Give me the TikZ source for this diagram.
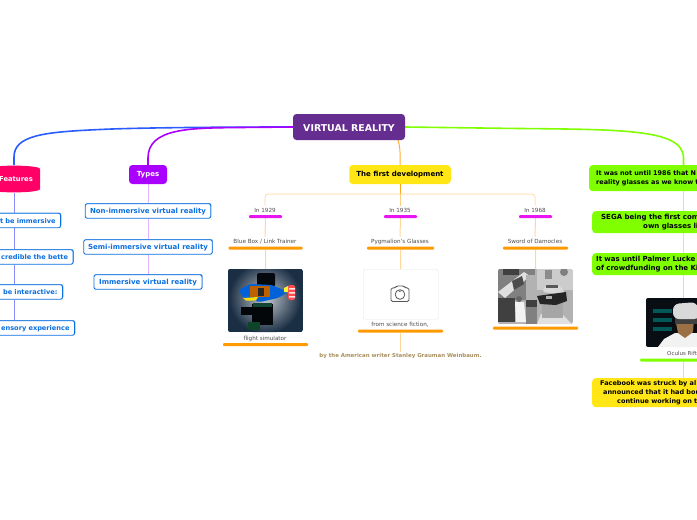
\documentclass[tikz,border=0pt]{standalone}
\usepackage{fontspec}
\setmainfont{DejaVu Sans}
\usetikzlibrary{backgrounds,shadows}
\definecolor{vrpurple}{HTML}{662D91}
\definecolor{vrblue}{HTML}{0A6FE0}
\definecolor{vrline}{HTML}{2B5CFF}
\definecolor{vrviolet}{HTML}{AA00FF}
\definecolor{vrpink}{HTML}{FF0066}
\definecolor{vryellow}{HTML}{FFE614}
\definecolor{vrgreen}{HTML}{80FF00}
\definecolor{vrorange}{HTML}{FF9900}
\definecolor{vrmagenta}{HTML}{E815F0}
\definecolor{vrtan}{HTML}{A8905F}
\definecolor{vrnavy}{HTML}{1A2E44}
\tikzset{
    topic/.style={rounded corners=3.5, inner sep=0, font=\fontsize{7}{8.6}\selectfont\bfseries, align=center},
    sidetopic/.style={topic, anchor=north west, text width=200, inner xsep=#1, align=left},
    subtopic/.style={draw=vrblue, line width=0.9, fill=white, rounded corners=2, inner sep=0,
        text=vrblue, minimum height=14.5, text height=6, text depth=1, font=\fontsize{7}{8}\selectfont\bfseries,
        drop shadow={shadow xshift=0.7, shadow yshift=-0.7, fill=vrblue!50, opacity=1}},
    edgetopic/.style={subtopic, anchor=east, align=right, font=\fontsize{6.6}{8}\selectfont\bfseries},
    caption/.style={inner sep=1, text=black!70, text height=5.2, text depth=1, font=\fontsize{5.65}{6.5}\selectfont},
    bar/.style={rounded corners=1, inner sep=0, minimum height=3},
    photo/.style={rounded corners=2, inner sep=0, anchor=north west},
    link/.style={line width=1},
    mainlink/.style={line width=1.6},
}
\begin{document}
\begin{tikzpicture}[x=1pt,y=-1pt]
    \useasboundingbox (0,0) rectangle (697,520);
    \clip (0,0) rectangle (697,520);

    % central topic
    \node[topic, fill=vrpurple, text=white, minimum width=112, minimum height=26, text height=9.3, text depth=0.5, font=\fontsize{9.4}{11}\selectfont\bfseries] (central) at (349,127) {VIRTUAL REALITY};

    % features branch
    \fill[vrpink] (-12,169) .. controls (-12,164.5) and (40,164.5) .. (40,169) -- (40,189)
        .. controls (40,193.5) and (-12,193.5) .. (-12,189) -- cycle;
    \node[inner sep=0, text=white, font=\fontsize{6.8}{8}\selectfont\bfseries] (features) at (16,179.5) {Features};
    \coordinate (featurestop) at (14,165);
    \coordinate (featuresbot) at (14,193);
    \node[edgetopic, minimum width=91, text width=81] (immersive) at (61,220.5) {t be immersive};
    \node[edgetopic, minimum width=102, text width=92] (credible) at (73.5,257) {credible the bette};
    \node[edgetopic, minimum width=91, text width=81] (interactive) at (63,292) {be interactive:};
    \node[edgetopic, minimum width=103, text width=93] (sensory) at (75,328) {ensory experience};

    % types branch
    \node[topic, fill=vrviolet, text=white, minimum width=38, minimum height=19] (types) at (148,174.5) {Types};
    \node[subtopic, minimum width=125.5] (nonimm) at (148,211) {Non-immersive virtual reality};
    \node[subtopic, minimum width=128.5] (semiimm) at (148,247) {Semi-immersive virtual reality};
    \node[subtopic, minimum width=108] (fullimm) at (148,282) {Immersive virtual reality};

    % first development branch
    \node[topic, fill=vryellow, minimum width=101.5, minimum height=19] (firstdev) at (400,174.5) {The first development};
    \coordinate (fork) at (400,194);
    \node[caption] (in1929) at (265,210) {In 1929};
    \node[caption] (in1935) at (400,210) {In 1935};
    \node[caption] (in1968) at (535,210) {In 1968};
    \node[bar, fill=vrmagenta, minimum width=33] (bar1929) at (265.5,216.5) {};
    \node[bar, fill=vrmagenta, minimum width=33] (bar1935) at (400.5,216.5) {};
    \node[bar, fill=vrmagenta, minimum width=33] (bar1968) at (535.5,216.5) {};
    \node[caption] (bluebox) at (265,241) {Blue Box / Link Trainer};
    \node[caption] (pygmalion) at (400,241) {Pygmalion's Glasses};
    \node[caption] (sword) at (535,241) {Sword of Damocles};
    \node[bar, fill=vrorange, minimum width=74] (barbox) at (265.5,248) {};
    \node[bar, fill=vrorange, minimum width=67] (barglass) at (400.5,248) {};
    \node[bar, fill=vrorange, minimum width=65] (barsword) at (535.5,248) {};

    % flight simulator picture
    \node[photo, minimum width=75, minimum height=63] (simulator) at (228,269) {};
    \begin{scope}
        \clip[rounded corners=2] (228,269) rectangle (303,332);
        \fill[vrnavy] (228,269) rectangle (303,332);
        \shade[inner color=white!75!vrnavy, outer color=vrnavy] (265,298) circle (36);
        \fill[black!80!vrnavy, rounded corners=2] (257,273) rectangle (275,287);
        \fill[black!85!vrnavy] (252,304) rectangle (273,325);
        \fill[black!45!green!25!vrnavy] (253,303) rectangle (272,307);
        \fill[black!85!vrnavy] (241,307) rectangle (252,315);
        \fill[black!60!green!40!vrnavy] (248,322) rectangle (260,330);
        \fill[blue!55!cyan!85!black, rounded corners=2] (239,290) -- (250,284) -- (272,285) -- (288,292) -- (278,298) -- (260,302) -- (243,298) -- cycle;
        \fill[orange!75!black] (250,286) rectangle (270,297);
        \fill[black!85] (258,288) rectangle (264,296);
        \fill[yellow!80!orange] (243,298) -- (258,297) -- (256,300.5) -- (246,300.5) -- cycle;
        \fill[red!70!white, rounded corners=2] (288,285) rectangle (295,300);
        \fill[white!90!red] (289,288) rectangle (295,289.5) (289,292) rectangle (295,293.5) (289,296) rectangle (295,297.5);
        \fill[yellow!80!white] (284,288) -- (288,286) -- (288,292) -- (284,292) -- cycle;
    \end{scope}
    \node[caption] (flight) at (265,338) {flight simulator};
    \node[bar, fill=vrorange, minimum width=85] (barflight) at (265.5,344.5) {};

    % missing picture with camera mark
    \node[photo, draw=black!10, fill=white, minimum width=75, minimum height=50] (nophoto) at (363,269) {};
    \begin{scope}[draw=black!65, line width=0.8]
        \draw[rounded corners=1.5] (391,288) -- (395,288) -- (396.5,286) -- (404,286) -- (405.5,288) -- (409,288) -- (409,301.5) -- (391,301.5) -- cycle;
        \draw (400,294.5) circle (4.8);
        \draw (399,291.5) -- (401,291);
    \end{scope}
    \node[caption] (fiction) at (400,324) {from science fiction,};
    \node[bar, fill=vrorange, minimum width=85] (barfiction) at (400.5,331) {};
    \node[inner sep=1, text=vrtan, font=\fontsize{5.45}{6.5}\selectfont\bfseries] (weinbaum) at (400.5,356) {by the American writer Stanley Grauman Weinbaum.};

    % black and white picture of the headset
    \node[photo, minimum width=75, minimum height=55] (damocles) at (498,269) {};
    \begin{scope}
        \clip[rounded corners=2] (498,269) rectangle (573,324);
        \fill[black!30] (498,269) rectangle (573,324);
        \fill[black!50] (498,269) rectangle (535,300);
        \fill[black!12] (498,292) -- (524,272) -- (530,276) -- (505,298) -- cycle;
        \fill[black!75] (503,269) rectangle (519,275);
        \fill[black!70] (512,281) -- (522,276) -- (524,284) -- (514,290) -- cycle;
        \fill[black!30] (526,275) rectangle (537,300);
        \fill[black!75] (498,298) rectangle (515,322);
        \fill[black!5] (515,302) -- (524,302) -- (526,322) -- (516,322) -- cycle;
        \fill[black!60] (519,299) circle (3);
        \fill[black!75] (526,300) rectangle (537,307);
        \fill[black!50] (526,307) rectangle (537,324);
        \fill[black!20] (537,269) rectangle (573,290);
        \fill[black!45] (545,270) rectangle (552,279);
        \fill[black!50] (564,272) circle (4);
        \fill[black!12] (537,324) -- (541,314) -- (562,314) -- (572,324) -- cycle;
        \fill[black!35] (542,303) rectangle (563,318);
        \fill[black!15, rounded corners=3] (542,292) -- (546,285) -- (560,285) -- (566,295) -- cycle;
        \fill[black!65] (546,285) rectangle (558,288);
        \fill[black!85] (537,296) -- (566,292) -- (567,301) -- (556,305) -- (540,304) -- cycle;
        \fill[black!30] (546,296) rectangle (552,299);
    \end{scope}
    \node[bar, fill=vrorange, minimum width=85] (barsky) at (535.5,328) {};

    % last branch, running over the page
    \node[sidetopic=7, fill=vrgreen, minimum height=26, font=\fontsize{6.45}{8.6}\selectfont\bfseries] (nasa) at (589,165) {It was not until 1986 that N\\reality glasses as we know t};
    \node[sidetopic=9, fill=vrgreen, minimum height=22] (sega) at (592,211) {SEGA being the first com\\\hspace*{42pt}own glasses li};
    \node[sidetopic=4, fill=vrgreen, minimum height=22] (palmer) at (592,253) {It was until Palmer Lucke\\of crowdfunding on the Ki};
    \node[photo, minimum width=60, minimum height=49] (oculus) at (646,298) {};
    \begin{scope}
        \clip[rounded corners=2] (646,298) rectangle (710,347);
        \fill[black!70!vrnavy] (646,298) rectangle (710,347);
        \fill[teal!70!black] (653,309) rectangle (672,313);
        \fill[teal!70!black] (653,318) rectangle (672,322);
        \fill[teal!70!black] (653,327) rectangle (672,331);
        \fill[black!5] (658,347) -- (664,339) -- (675,333) -- (697,333) -- (702,347) -- cycle;
        \fill[brown!75!black!90] (675,318) -- (694,318) -- (693,332) -- (685,338) -- (678,333) -- cycle;
        \fill[black!75] (675,316) rectangle (697,324);
        \fill[black!15, rounded corners=6] (673,319) -- (673,304) -- (697,302) -- (700,319) -- cycle;
    \end{scope}
    \node[inner sep=1, anchor=west, text=black!70, font=\fontsize{5.5}{6.5}\selectfont] (rift) at (666,353.5) {Oculus Rift};
    \node[bar, fill=vrgreen, minimum width=70, anchor=west] (barrift) at (640,360) {};
    \node[sidetopic=8, fill=vryellow, minimum height=29, font=\fontsize{6.5}{8.6}\selectfont\bfseries] (facebook) at (592,378) {Facebook was struck by al\\\hspace*{3pt}announced that it had bou\\\hspace*{17pt}continue working on t};

    % connectors, behind the nodes
    \begin{scope}[on background layer]
        \draw[mainlink, vrline] (central.west) .. controls (200,127) and (130,128) .. (100,129.5)
            .. controls (45,132) and (14,135) .. (14,157) -- (featurestop);
        \draw[mainlink, vrviolet] (central.west) -- (240,127.5)
            .. controls (190,128) and (148,128) .. (148,158) -- (types.north);
        \draw[mainlink, vrgreen] (central.east) -- (480,128)
            .. controls (610,130) and (683.5,126) .. (683.5,158) -- (nasa.north -| 683.5,0);
        \draw[link, vrorange!80] (398,140) .. controls (400,146) and (400.5,155) .. (firstdev.north);
        \draw[link, blue!45!white] (featuresbot) -- (immersive.north -| 14,0) (immersive.south -| 14,0) -- (credible.north -| 14,0)
            (credible.south -| 14,0) -- (interactive.north -| 14,0) (interactive.south -| 14,0) -- (sensory.north -| 14,0);
        \draw[link, vrviolet!30] (types) -- (nonimm) (nonimm) -- (semiimm) (semiimm) -- (fullimm);
        \draw[link, vrorange!90] (firstdev.south) -- (fork);
        \draw[link, vrorange!30, rounded corners=3] (in1929.north) -- (265,194) -- (535,194) -- (in1968.north);
        \draw[link, vrorange!50] (fork) -- (in1935.north);
        \foreach \a/\b in {bar1929/bluebox, bar1935/pygmalion, bar1968/sword,
            barbox/simulator, barglass/nophoto, barsword/damocles, barfiction/weinbaum} {
            \draw[link, vrorange!40] (\a.south) -- (\b.north);
        }
        \draw[link, green!35!vrgreen!45] (683.5,191) -- (683.5,298);
        \draw[link, green!35!vrgreen!45] (683.5,361) -- (683.5,378);
    \end{scope}
\end{tikzpicture}
\end{document}
